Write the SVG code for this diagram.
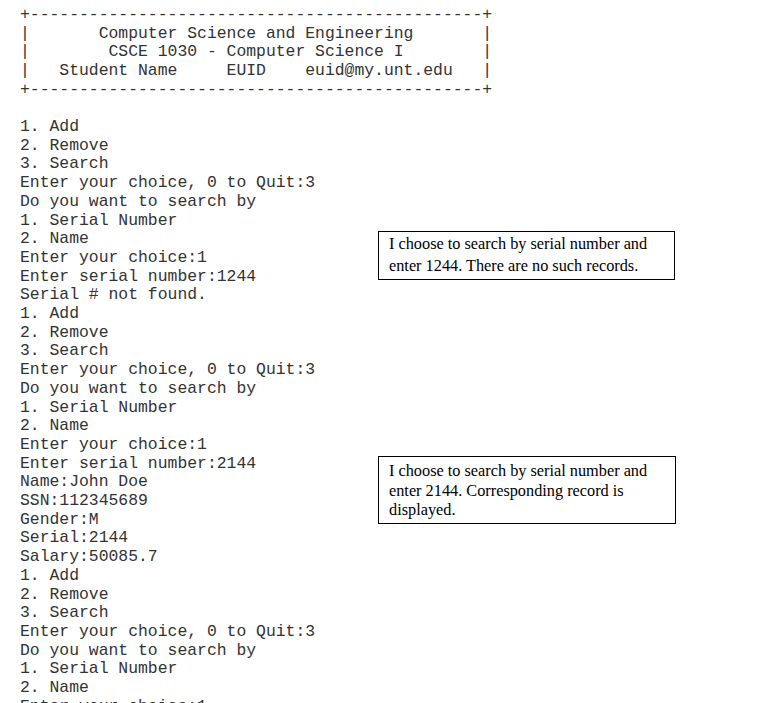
<svg xmlns="http://www.w3.org/2000/svg" width="772" height="703" viewBox="0 0 772 703">
<style>
.t{font-family:"Liberation Mono",monospace;font-size:16.4px;fill:#333;white-space:pre}
.n{font-family:"Liberation Serif",serif;font-size:16.3px;fill:#000}
.b{fill:#fff;stroke:#000;stroke-width:1}
</style>
<rect width="772" height="703" fill="#fff"/>
<g id="terminal">
<text class="t" x="20" xml:space="preserve"><tspan x="20" y="19">+----------------------------------------------+</tspan><tspan x="20" y="38">|       Computer Science and Engineering       |</tspan><tspan x="20" y="56">|        CSCE 1030 - Computer Science I        |</tspan><tspan x="20" y="75">|   Student Name     EUID    euid@my.unt.edu   |</tspan><tspan x="20" y="94">+----------------------------------------------+</tspan></text>
<text class="t" xml:space="preserve"><tspan x="20" y="131">1. Add</tspan><tspan x="20" y="149.7">2. Remove</tspan><tspan x="20" y="168.4">3. Search</tspan><tspan x="20" y="187.1">Enter your choice, 0 to Quit:3</tspan><tspan x="20" y="205.8">Do you want to search by</tspan><tspan x="20" y="224.5">1. Serial Number</tspan><tspan x="20" y="243.2">2. Name</tspan><tspan x="20" y="261.9">Enter your choice:1</tspan><tspan x="20" y="280.6">Enter serial number:1244</tspan><tspan x="20" y="299.3">Serial # not found.</tspan><tspan x="20" y="318">1. Add</tspan><tspan x="20" y="336.7">2. Remove</tspan><tspan x="20" y="355.4">3. Search</tspan><tspan x="20" y="374.1">Enter your choice, 0 to Quit:3</tspan><tspan x="20" y="392.8">Do you want to search by</tspan><tspan x="20" y="411.5">1. Serial Number</tspan><tspan x="20" y="430.2">2. Name</tspan><tspan x="20" y="448.9">Enter your choice:1</tspan><tspan x="20" y="467.6">Enter serial number:2144</tspan><tspan x="20" y="486.3">Name:John Doe</tspan><tspan x="20" y="505">SSN:112345689</tspan><tspan x="20" y="523.7">Gender:M</tspan><tspan x="20" y="542.4">Serial:2144</tspan><tspan x="20" y="561.1">Salary:50085.7</tspan><tspan x="20" y="579.8">1. Add</tspan><tspan x="20" y="598.5">2. Remove</tspan><tspan x="20" y="617.2">3. Search</tspan><tspan x="20" y="635.9">Enter your choice, 0 to Quit:3</tspan><tspan x="20" y="654.6">Do you want to search by</tspan><tspan x="20" y="673.3">1. Serial Number</tspan><tspan x="20" y="692">2. Name</tspan><tspan x="20" y="710.7">Enter your choice:1</tspan></text>
</g>
<g id="note1">
<rect class="b" x="378.5" y="231.5" width="296" height="48"/>
<text class="n"><tspan x="389" y="249">I choose to search by serial number and</tspan><tspan x="389" y="271">enter 1244. There are no such records.</tspan></text>
</g>
<g id="note2">
<rect class="b" x="378.5" y="456.5" width="297" height="67"/>
<text class="n"><tspan x="389" y="476">I choose to search by serial number and</tspan><tspan x="389" y="496">enter 2144. Corresponding record is</tspan><tspan x="389" y="515">displayed.</tspan></text>
</g>
<g id="connectors"/>
</svg>
